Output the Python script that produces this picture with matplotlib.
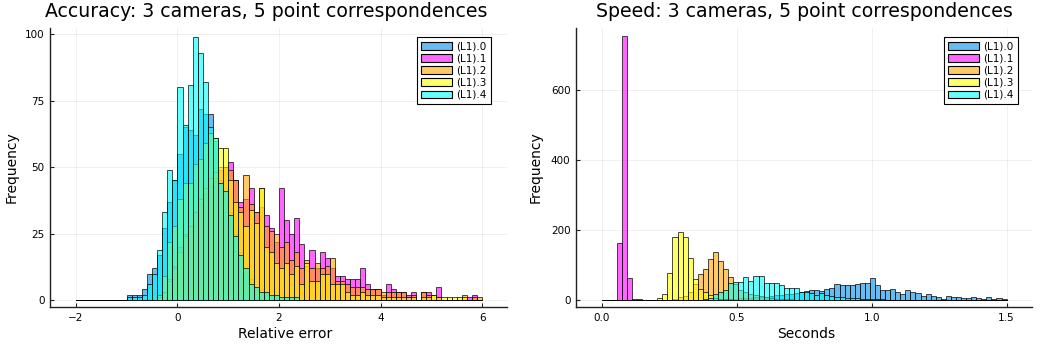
import numpy as np
import matplotlib.pyplot as plt
from matplotlib.patches import Patch
from matplotlib.colors import to_rgba

labels = ["(L1).0", "(L1).1", "(L1).2", "(L1).3", "(L1).4"]
colors = ["#0090e6", "#ff00ff", "#ffa500", "#ffff00", "#00ffff"]

n_bins = 80
acc_range = (-2.0, 6.0)
speed_range = (0.0, 1.5)

# accuracy histogram counts (relative error, bins of 0.1 from -2 to 6)
acc_0 = [0] * 10 + [2, 2, 2, 4, 10, 12, 17, 27, 37, 45,
                    55, 65, 64, 62, 72, 70, 70, 60, 45, 40,
                    33, 25, 18, 12, 8, 5, 4, 3, 2, 2,
                    1, 1, 1] + [0] * 37
acc_1 = [0] * 16 + [1, 3, 8, 13,
                    20, 25, 28, 33, 36, 40, 43, 46, 49, 50,
                    52, 45, 37, 38, 42, 33, 35, 32, 27, 22,
                    42, 30, 25, 31, 21, 13, 19, 12, 18, 16,
                    12, 9, 9, 8, 8, 8, 12, 6, 4, 4,
                    2, 6, 4, 3, 3, 2, 3, 0, 3, 3,
                    0, 5, 0, 0, 0, 0, 0, 1, 2, 0]
acc_2 = [0] * 16 + [1, 3, 7, 12,
                    18, 24, 28, 33, 38, 42, 46, 48, 50, 50,
                    49, 45, 35, 47, 36, 33, 42, 28, 26, 25,
                    20, 22, 15, 18, 12, 15, 12, 14, 12, 13,
                    16, 7, 7, 6, 5, 5, 5, 4, 4, 4,
                    3, 3, 3, 3, 3, 1, 2, 0, 3, 2,
                    2, 1, 0, 0, 0, 0, 2, 0, 1, 1]
acc_3 = [0] * 16 + [2, 9, 22, 28,
                    38, 44, 44, 51, 53, 59, 63, 61, 57, 57,
                    45, 37, 33, 28, 34, 29, 42, 20, 18, 14,
                    12, 14, 10, 13, 6, 14, 7, 7, 10, 10,
                    6, 6, 6, 3, 2, 2, 3, 2, 2, 2,
                    1, 1, 1, 1, 1, 1, 1, 0, 1, 1,
                    2, 1, 1, 1, 1, 1, 1, 0, 0, 0]
acc_4 = [0] * 10 + [1, 1, 1, 2, 6, 10, 19, 33, 49, 45,
                    80, 66, 81, 99, 93, 82, 65, 61, 44, 41,
                    32, 24, 17, 12, 6, 5, 3, 3, 2, 2,
                    1, 1, 1, 1] + [0] * 36

# speed histogram counts (seconds, 80 bins from 0 to 1.5)
speed_0 = [0] * 20 + [1, 1, 2, 2, 3, 3, 4, 5, 6, 7,
                      8, 9, 10, 12, 13, 15, 16, 18, 20, 22,
                      25, 30, 29, 26, 31, 33, 46, 43, 43, 43,
                      46, 48, 48, 62, 43, 29, 29, 31, 22, 16,
                      29, 22, 19, 12, 18, 11, 10, 2, 12, 8,
                      8, 5, 5, 8, 5, 2, 10, 2, 5, 4]
speed_1 = [0] * 2 + [1, 164, 754, 62, 3, 2, 1, 1, 0, 1] + [0] * 68
speed_2 = [0] * 13 + [1, 3, 8, 12, 22, 45, 73,
                      90, 116, 136, 112, 89, 67, 45, 30, 22, 18,
                      15, 12, 8, 6, 4, 3, 2, 2, 1, 1] + [0] * 40
speed_3 = [0] * 10 + [1, 5, 17, 76, 179, 193, 179, 119, 60, 31,
                      22, 14, 7, 4, 3, 2, 1] + [0] * 53
speed_4 = [0] * 20 + [2, 5, 16, 24, 29, 48, 52, 52, 65, 55,
                      70, 70, 50, 50, 48, 43, 33, 33, 33, 22,
                      22, 19, 14, 19, 14, 12, 10, 8, 7, 6,
                      5, 4, 3, 3, 2, 2, 1, 1, 1, 1, 1] + [0] * 19


def draw(ax, rng, series, leg_x):
    edges = np.linspace(rng[0], rng[1], n_bins + 1)
    width = edges[1] - edges[0]
    for counts, c, lab in zip(series, colors, labels):
        ax.bar(edges[:-1], counts, width=width, align="edge",
               facecolor=to_rgba(c, 0.6), edgecolor=(0, 0, 0, 0.7),
               linewidth=0.7, label=lab)

    for side in ["top", "right"]:
        ax.spines[side].set_visible(False)
    for side in ["left", "bottom"]:
        ax.spines[side].set_linewidth(1.0)
        ax.spines[side].set_color("#222222")
    ax.grid(True, color="k", alpha=0.07, linewidth=0.6)
    ax.set_axisbelow(True)
    ax.tick_params(direction="in", length=3, labelsize=7.5, pad=4, color="#222222")

    handles = [Patch(facecolor=to_rgba(c, 0.6), edgecolor="black", linewidth=0.8)
               for c in colors]
    leg = ax.legend(handles, labels, loc="upper right", fontsize=7.5,
                    frameon=True, fancybox=False, edgecolor="black",
                    framealpha=1, handlelength=3.0, handleheight=0.75,
                    labelspacing=0.2, handletextpad=0.4, borderpad=0.4,
                    borderaxespad=0.0, bbox_to_anchor=(leg_x, 0.966))
    leg.get_frame().set_linewidth(0.8)


fig = plt.figure(figsize=(10.44, 3.49), dpi=100)

ax1 = fig.add_axes([0.0479, 0.1203, 0.4377, 0.7995])
draw(ax1, acc_range, [acc_0, acc_1, acc_2, acc_3, acc_4], 0.965)
ax1.set_xlim(-2.51, 6.49)
ax1.set_ylim(-2.6, 102.3)
ax1.set_xticks([-2, 0, 2, 4, 6])
ax1.set_yticks([0, 25, 50, 75, 100])
ax1.text(0.473, 1.058, "Accuracy: 3 cameras, 5 point correspondences",
         transform=ax1.transAxes, ha="center", va="center", fontsize=13.6)
ax1.set_xlabel("Relative error", fontsize=10, va="center")
ax1.set_ylabel("Frequency", fontsize=10, va="center")
ax1.xaxis.set_label_coords(0.514, -0.097)
ax1.yaxis.set_label_coords(-0.083, 0.5)

ax2 = fig.add_axes([0.5517, 0.1203, 0.4368, 0.7995])
draw(ax2, speed_range, [speed_0, speed_1, speed_2, speed_3, speed_4], 0.969)
ax2.set_xlim(-0.095, 1.594)
ax2.set_ylim(-20, 777)
ax2.set_xticks([0.0, 0.5, 1.0, 1.5])
ax2.set_xticklabels(["0.0", "0.5", "1.0", "1.5"])
ax2.set_yticks([0, 200, 400, 600])
ax2.text(0.5, 1.058, "Speed: 3 cameras, 5 point correspondences",
         transform=ax2.transAxes, ha="center", va="center", fontsize=13.6)
ax2.set_xlabel("Seconds", fontsize=10, va="center")
ax2.set_ylabel("Frequency", fontsize=10, va="center")
ax2.xaxis.set_label_coords(0.504, -0.097)
ax2.yaxis.set_label_coords(-0.088, 0.5)

fig.savefig("out.png", dpi=100)
